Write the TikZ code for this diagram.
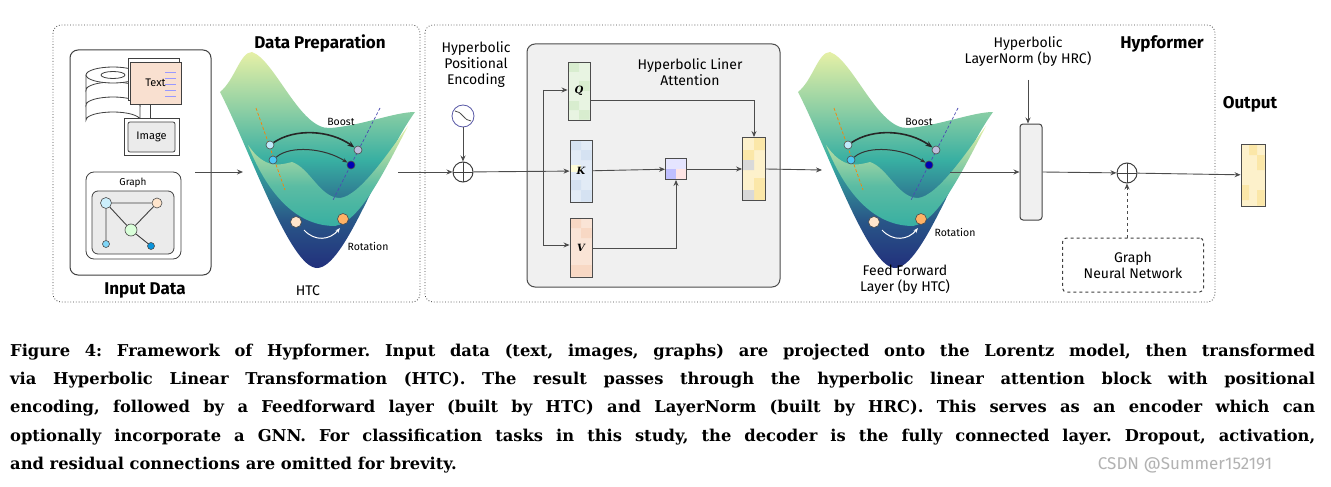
\documentclass[tikz,border=0pt]{standalone}
\usepackage{fontspec}
\setmainfont{DejaVu Serif}
\newfontfamily\dia{Fira Sans}
\usetikzlibrary{arrows.meta,calc}
\definecolor{frame}{HTML}{444444}
\definecolor{qg}{HTML}{D8EDCF}
\definecolor{kb}{HTML}{D5E2F2}
\definecolor{vo}{HTML}{F8D8C4}
\definecolor{oy}{HTML}{FBE7A8}
\definecolor{stop}{HTML}{E6F0A6}
\definecolor{smid}{HTML}{38AFA2}
\definecolor{sbot}{HTML}{22307C}
\pgfdeclareverticalshading{bowl}{100bp}{color(0bp)=(sbot); color(25bp)=(sbot); color(36bp)=(sbot!70!smid); color(50bp)=(smid); color(62bp)=(smid!50!stop); color(75bp)=(stop); color(100bp)=(stop)}
\pgfdeclareverticalshading{fold}{100bp}{color(0bp)=(smid); color(25bp)=(smid); color(45bp)=(smid!80!stop); color(75bp)=(stop); color(100bp)=(stop)}
\tikzset{
  every node/.style={font=\dia},
  dotbox/.style={draw=frame, dotted, line width=0.8pt, rounded corners=8pt},
  solidbox/.style={draw=black!75, line width=1pt, rounded corners=8pt},
  arr/.style={draw=black!70, line width=0.9pt, -{Stealth[length=6pt,width=5pt]}},
  ln/.style={draw=black!70, line width=0.9pt},
  lbl/.style={font=\dia\fontsize{14}{16}\selectfont, align=center},
  ttl/.style={font=\dia\bfseries\fontsize{17}{19}\selectfont},
  small/.style={font=\dia\fontsize{10.5}{11}\selectfont},
  dot/.style={circle, draw=black!70, line width=0.6pt, minimum size=8pt, inner sep=0pt},
  vec/.style={draw=black!70, line width=0.9pt, minimum width=22pt, inner sep=0pt},
  oplus/.style={circle, draw=black!75, line width=1pt, minimum size=20pt, inner sep=0pt,
     path picture={\draw[black!75,line width=1pt] (path picture bounding box.north) -- (path picture bounding box.south)
       (path picture bounding box.west) -- (path picture bounding box.east);}},
  captxt/.style={font=\bfseries\fontsize{16.3}{20}\selectfont, anchor=west, inner sep=0pt},
}
\newcommand{\surf}[1]{%
 \begin{scope}[shift={(#1,0)}]
  \shade[shading=bowl]
    (220,92) .. controls (235,80) and (240,52) .. (252,52)
    .. controls (275,60) and (300,130) .. (330,128)
    .. controls (360,126) and (395,112) .. (415,112)
    .. controls (380,160) and (345,268) .. (317,268)
    .. controls (290,268) and (250,150) .. (220,92) -- cycle;
  \shade[shading=fold]
    (248,145) .. controls (265,170) and (280,165) .. (292,162)
    .. controls (310,168) and (320,198) .. (340,198)
    .. controls (360,196) and (390,150) .. (408,126)
    .. controls (385,170) and (360,222) .. (335,226)
    .. controls (300,226) and (270,200) .. (248,145) -- cycle;
  \draw[orange, densely dashed, line width=0.7pt] (256,108) -- (285,190);
  \draw[blue!40!gray, densely dashed, line width=0.7pt] (380,108) -- (333,200);
  \node[dot, fill=cyan!25] (b1#1) at (270,145) {};
  \node[dot, fill=blue!30!gray!40] (b2#1) at (358,150) {};
  \node[dot, fill=cyan!70] (b3#1) at (273,160) {};
  \node[dot, fill=blue!70!black] (b4#1) at (351,165) {};
  \draw[black!85, line width=1.6pt, -{Stealth[length=7pt]}] (b1#1) .. controls (295,128) and (330,130) .. (b2#1);
  \draw[black!80, line width=1pt, -{Stealth[length=5pt]}] (b3#1) .. controls (290,145) and (325,148) .. (b4#1);
  \node[dot, minimum size=11pt, fill=orange!20] (r1#1) at (296,222) {};
  \node[dot, minimum size=11pt, fill=orange!60] (r2#1) at (343,219) {};
  \draw[white, line width=1pt, -{Stealth[length=5pt]}] (304,230) .. controls (315,242) and (330,240) .. (340,228);
  \node[small] at (341,122) {Boost};
 \end{scope}}
\begin{document}
\frenchspacing
\begin{tikzpicture}[x=1pt,y=-1pt]
\useasboundingbox (0,0) rectangle (1331,487);
\fill[white] (0,0) rectangle (1331,487);
% frames
\draw[dotbox] (53,25) rectangle (420,302);
\draw[dotbox] (425,25) rectangle (1215,302);
\node[ttl] (dp) at (320,43) {Data Preparation};
\node[ttl] (hyp) at (1162,44) {Hypformer};
% input data
\draw[solidbox] (70,50) rectangle (211,275);
\node[ttl] (ind) at (145,290) {Input Data};
% database cylinder
\foreach \yy in {105,90,75}{
  \filldraw[draw=black!75, fill=white, line width=0.8pt] (86,\yy) -- (86,\yy+15) arc[start angle=180,end angle=360,x radius=27,y radius=8] -- (140,\yy) ;
}
\filldraw[draw=black!75, fill=white, line width=0.8pt] (113,75) ellipse[x radius=27, y radius=8];
\draw[black!75, line width=0.8pt] (113,75) ellipse[x radius=12, y radius=3.5];
\draw[black!75, line width=0.8pt] (150,105) -- (150,120);
\draw[black!75, fill=white, line width=0.8pt] (128,58) rectangle (179,100);
\node[draw=black!75, fill=vo!80, line width=0.8pt, minimum width=51pt, minimum height=42pt, inner sep=0pt, font=\dia\fontsize{11}{12}\selectfont] (txt) at (155.5,83) {Text\hspace{18pt}};
\foreach \yy in {72,78,84,90,96}{\draw[blue!40, line width=0.8pt] (165,\yy) -- (176,\yy);}
\draw[black!75, fill=white, line width=0.8pt] (124,118) rectangle (179,155);
\node[draw=black!75, fill=black!8, line width=0.8pt, rounded corners=2pt, minimum width=47pt, minimum height=30pt, inner sep=0pt, font=\dia\fontsize{11}{12}\selectfont] (img) at (151.5,137) {Image};
% graph
\draw[solidbox, line width=0.8pt] (86,172) rectangle (181,259);
\node[font=\dia\fontsize{10}{11}\selectfont] (gl) at (133,183) {Graph};
\draw[draw=black!75, fill=black!8, line width=0.8pt, rounded corners=6pt] (92,191) rectangle (174,254);
\node[dot, minimum size=11pt, fill=cyan!20] (g1) at (106,203) {};
\node[dot, minimum size=10pt, fill=orange!20] (g2) at (157,203) {};
\node[dot, minimum size=12pt, fill=green!15] (g3) at (131,230) {};
\node[dot, minimum size=7pt, fill=cyan!50] (g4) at (106,244) {};
\node[dot, minimum size=7pt, fill=cyan!80!blue] (g5) at (151,246) {};
\draw[black!75, line width=0.9pt] (g1)--(g2) (g1)--(g4) (g1)--(g3) (g3)--(g2) (g3)--(g5);
\draw[arr] (195,172) -- (243,172);
% HTC surface
\surf{0}
\node[small] at (368,246) {Rotation};
\node[lbl] (htc) at (308,291) {HTC};
% positional encoding
\node[lbl] (pet) at (476,65) {Hyperbolic\\Positional\\Encoding};
\node[circle, draw=blue!30!gray, line width=0.8pt, minimum size=22pt, inner sep=0pt] (pe) at (463,116) {};
\draw[black!70, line width=0.8pt] (455,111) .. controls (462,111) and (464,121) .. (471,121);
\node[oplus] (p1) at (463,172) {};
\draw[arr] (pe) -- (p1);
\draw[arr] (398,172) -- (p1);
% attention
\draw[draw=black!70, fill=black!6, line width=1pt, rounded corners=8pt] (527,44) rectangle (780,287);
\node[lbl] (att) at (690,72) {Hyperbolic Liner\\Attention};
\node[vec, minimum height=58pt, fill=qg!60] (q) at (579,91) {};
\node[vec, minimum height=62pt, fill=kb!70] (k) at (581,171) {};
\node[vec, minimum height=59pt, fill=vo!70] (v) at (581,248) {};
\fill[qg] (568.5,62.5) rectangle (579,72) (579,81) rectangle (589.5,91) (568.5,101) rectangle (579,110) (579,110) rectangle (589.5,119.5);
\fill[kb] (570.5,140.5) rectangle (581,150) (581,150) rectangle (591.5,160) (570.5,180) rectangle (581,190) (581,190) rectangle (591.5,201.5);
\fill[yellow!15] (570.5,165) rectangle (581,172);
\fill[vo] (570.5,219) rectangle (581,228) (581,228) rectangle (591.5,238) (570.5,265) rectangle (591.5,276.5);
\node[vec, minimum height=58pt, font=\bfseries\itshape] at (579,91) {Q};
\node[vec, minimum height=62pt, font=\bfseries\itshape] at (581,171) {K};
\node[vec, minimum height=59pt, font=\bfseries\itshape] at (581,248) {V};
\node[draw=black!70, line width=0.9pt, minimum size=21pt, inner sep=0pt, fill=blue!10] (sq) at (676,169) {};
\fill[blue!25] (666,169) rectangle (676,179);
\fill[red!10] (676,169) rectangle (686,179);
\node[vec, minimum width=23pt, minimum height=63pt, fill=oy!60] (o) at (754,169) {};
\fill[oy] (754,138) rectangle (765,150) (743,150) rectangle (754,160) (754,178) rectangle (765,190) (754,190) rectangle (765,200);
\fill[black!15] (743,160) rectangle (754,170) (743,190) rectangle (754,200);
\node[vec, minimum width=23pt, minimum height=63pt] at (754,169) {};
\draw[arr] (p1) -- (k);
\coordinate (br) at (543,172);
\draw[ln] (543,90) -- (543,245);
\draw[arr] (543,90) -- (q.west |- 0,90);
\draw[arr] (543,245) -- (v.west |- 0,245);
\draw[arr] (k) -- (sq);
\draw[arr] (v.east |- 0,248) -| (sq.south);
\draw[arr] (q.east |- 0,100) -| (o.north);
\draw[arr] (sq) -- (o);
% FFN surface
\surf{578}
\node[small] at (955,232) {Rotation};
\draw[arr] (o.east) -- (822,170);
\node[lbl] (ffn) at (905,280) {Feed Forward\\Layer (by HTC)};
% layer norm
\node[lbl] (lnt) at (1028,52) {Hyperbolic\\LayerNorm (by HRC)};
\node[draw=frame, fill=black!6, line width=1pt, rounded corners=3pt, minimum width=22pt, minimum height=96pt, inner sep=0pt] (lnb) at (1031,172) {};
\draw[arr] (1028,80) -- (lnb.north -| 1028,0);
\draw[arr] (950,172) -- (lnb.west);
\node[oplus] (p2) at (1127,173) {};
\draw[arr] (lnb.east) -- (p2);
\node[draw=black!75, dashed, line width=1pt, rounded corners=4pt, minimum width=141pt, minimum height=54pt, align=center, font=\dia\fontsize{14}{16}\selectfont] (gnn) at (1133,265) {Graph\\Neural Network};
\draw[arr, dashed] (p2 |- gnn.north) -- (p2);
% output
\node[ttl] (outt) at (1250,104) {Output};
\node[vec, minimum width=24pt, minimum height=62pt, fill=oy!60] (out) at (1253,175) {};
\fill[oy] (1249,145) rectangle (1257,155) (1257,155) rectangle (1264.5,170) (1241.5,185) rectangle (1249,200) (1257,190) rectangle (1264.5,205.5);
\node[vec, minimum width=24pt, minimum height=62pt] at (1253,175) {};
\draw[arr] (p2) -- (out);
% caption
\node[captxt] at (10,352) {\makebox[1305pt][s]{Figure 4: Framework of Hypformer. Input data (text, images, graphs) are projected onto the Lorentz model, then transformed}};
\node[captxt] at (10,380) {\makebox[1305pt][s]{via Hyperbolic Linear Transformation (HTC). The result passes through the hyperbolic linear attention block with positional}};
\node[captxt] at (10,408) {\makebox[1305pt][s]{encoding, followed by a Feedforward layer (built by HTC) and LayerNorm (built by HRC). This serves as an encoder which can}};
\node[captxt] at (10,437) {\makebox[1305pt][s]{optionally incorporate a GNN. For classification tasks in this study, the decoder is the fully connected layer. Dropout, activation,}};
\node[captxt] at (10,465) {and residual connections are omitted for brevity.};
\node[font=\dia\fontsize{17}{18}\selectfont, text=black!30] (wm) at (1185,465) {CSDN @Summer152191};
\end{tikzpicture}
\end{document}
